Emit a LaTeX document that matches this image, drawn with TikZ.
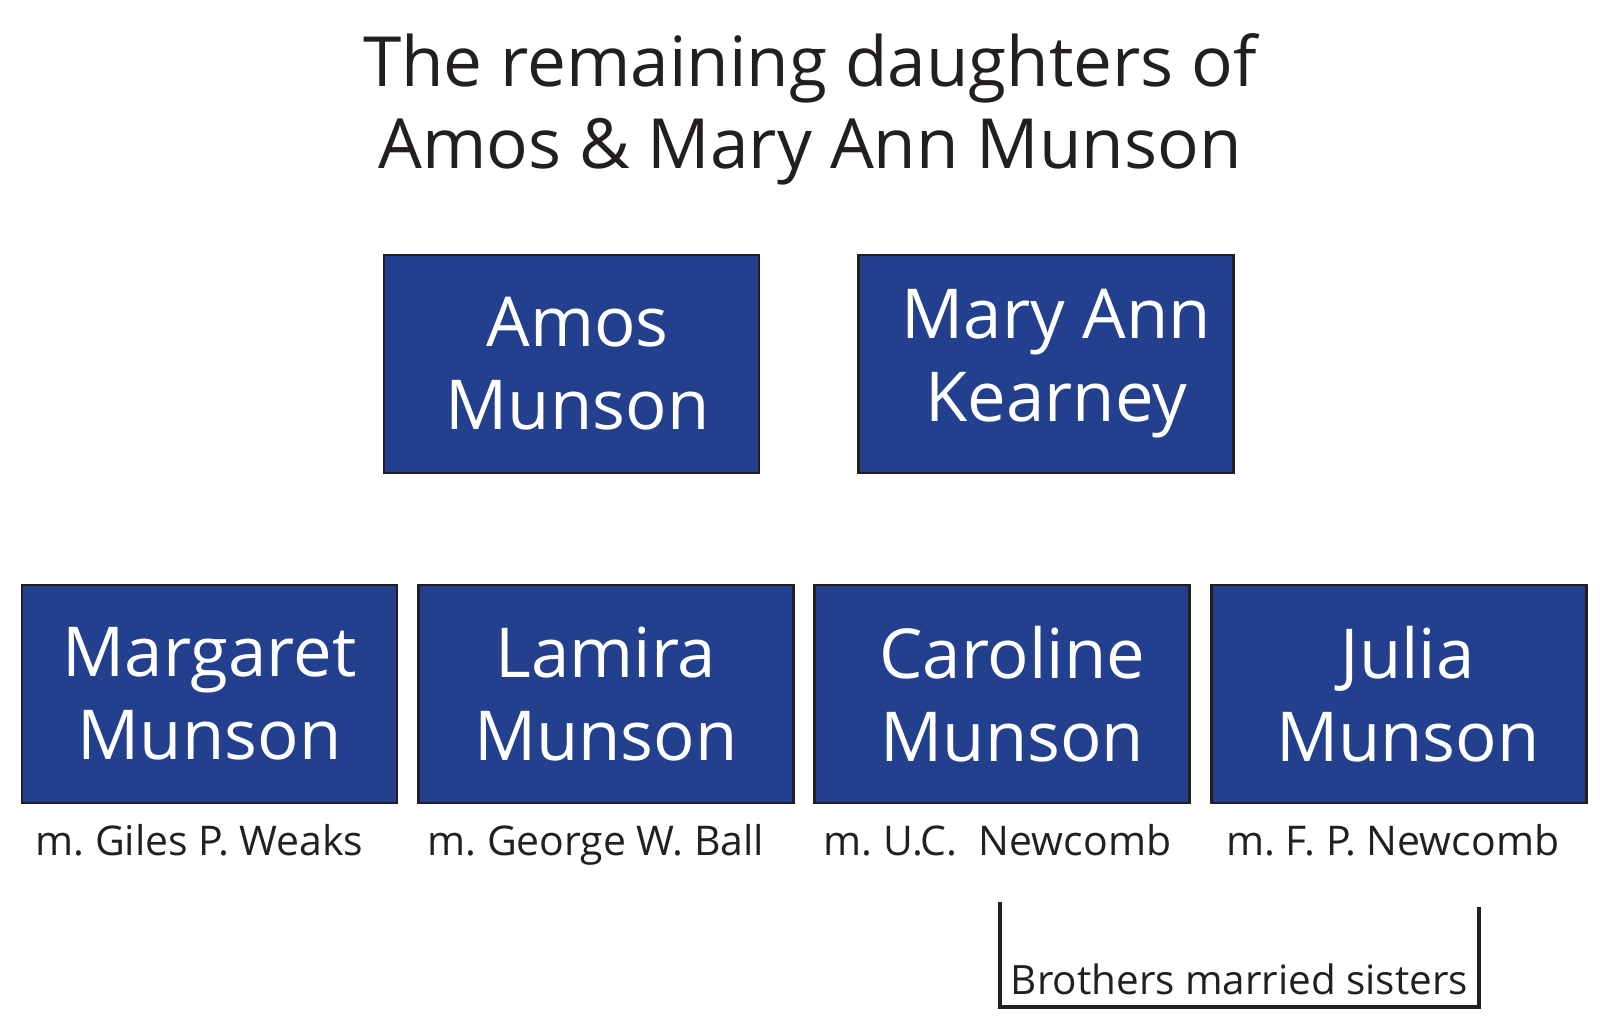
\documentclass[tikz,border=0pt]{standalone}
\usepackage{fontspec}
\setmainfont{Open Sans}
\usetikzlibrary{calc, positioning}

\definecolor{munsonblue}{RGB}{35,64,142}
\definecolor{inkgray}{RGB}{35,31,32}
\frenchspacing

\begin{document}
\begin{tikzpicture}[
    person/.style={draw=inkgray, line width=0.8pt, fill=munsonblue, text=white,
        minimum width=3.75cm, minimum height=2.18cm, inner sep=0pt, align=center,
        font=\fontsize{19.6}{23.6}\selectfont},
    spouse/.style={text=inkgray, inner sep=0pt, text height=0.32cm, text depth=0.1cm,
        font=\fontsize{11.65}{14}\selectfont},
    title/.style={text=inkgray, inner sep=0pt, align=center,
        font=\fontsize{19.7}{23.3}\selectfont}
]

    \useasboundingbox (0,0) rectangle (16,-10.25);

    % Title
    \node[title] (title) at (8.10,-1.09) {The remaining daughters of\\Amos \& Mary Ann Munson};

    % Parents
    \node[person] (amos) at (5.715,-3.64) {\hspace*{0.12cm}Amos\\\hspace*{0.12cm}Munson};
    \node[person, right=0.97 of amos] (maryann) {\hspace*{0.2cm}Mary Ann\\\hspace*{0.2cm}Kearney};

    % Daughters
    \node[person] (margaret) at (2.095,-6.94) {Margaret\\Munson};
    \node[person, right=0.186 of margaret] (lamira) {Lamira\\Munson};
    \node[person, right=0.186 of lamira] (caroline) {\hspace*{0.2cm}Caroline\\\hspace*{0.2cm}Munson};
    \node[person, right=0.186 of caroline] (julia) {\hspace*{0.18cm}Julia\\\hspace*{0.18cm}Munson};

    % Husbands
    \node[spouse, below=0.18 of margaret, xshift=-0.1cm] (margaretm) {m. Giles P. Weaks};
    \node[spouse, below=0.18 of lamira, xshift=-0.1cm] (lamiram) {m. George W. Ball};
    \node[spouse, below=0.18 of caroline, xshift=-0.05cm] (carolinem) {m. U.C.\ \ Newcomb};
    \node[spouse, below=0.18 of julia, xshift=-0.06cm] (juliam) {m. F. P. Newcomb};

    % Bracket
    \coordinate (brtopleft) at (10.00,-9.02);
    \coordinate (brbotleft) at (10.00,-10.07);
    \coordinate (brbotright) at (14.79,-10.07);
    \coordinate (brtopright) at (14.79,-9.07);
    \draw[inkgray, line width=1.3pt] (brtopleft) -- (brbotleft)
        -- node[midway, anchor=base, yshift=0.13cm, text=inkgray, inner sep=0pt,
                font=\fontsize{11.5}{13}\selectfont] (brnote) {Brothers married sisters} (brbotright)
        -- (brtopright);

\end{tikzpicture}
\end{document}
